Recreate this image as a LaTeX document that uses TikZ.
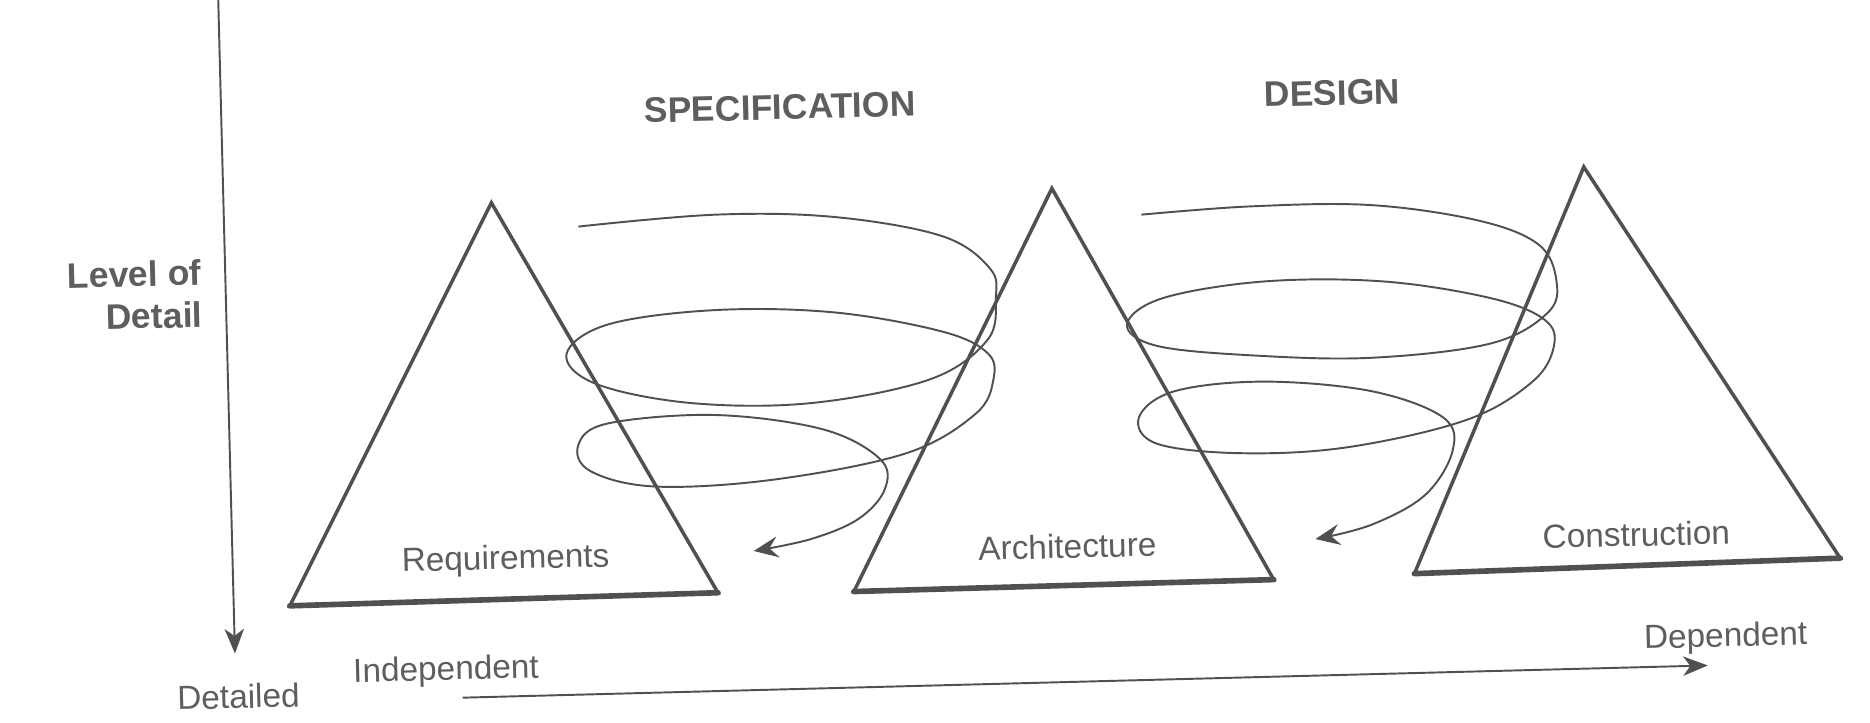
\documentclass[tikz,border=0pt]{standalone}
\usepackage{fontspec}
\setmainfont{Liberation Sans}
\usetikzlibrary{arrows.meta}
\definecolor{ink}{HTML}{505050}
\definecolor{txt}{HTML}{5E5E5E}
\begin{document}
\begin{tikzpicture}[x=0.011926cm,y=-0.011926cm,
  tri/.style={draw=ink,line width=1pt,line join=miter},
  base/.style={draw=ink,line width=1.6pt,line cap=round},
  spiral/.style={draw=ink,line width=0.55pt,-{Stealth[length=7pt,width=6pt,inset=2.5pt]}},
  axis/.style={draw=ink,line width=0.55pt,-{Stealth[length=7pt,width=5.5pt,inset=2pt]}},
  lbl/.style={text=txt,font=\fontsize{9.5}{11}\selectfont,inner sep=0pt,rotate=1.4},
  head/.style={text=txt,font=\fontsize{10.1}{12}\selectfont\bfseries,inner sep=0pt,rotate=1.4}]
\useasboundingbox (0,0) rectangle (1568,606);
% axes
\coordinate (vtop) at (183,0);
\coordinate (vbot) at (197,548);
\coordinate (hl) at (388,585);
\coordinate (hr) at (1432,558);
\draw[axis] (vtop) -- (vbot);
\draw[axis] (hl) -- (hr);
% labels
\node[head,align=right,anchor=east] (lod) at (170,246) {Level of\\Detail};
\node[lbl] (detailed) at (200,584) {Detailed};
\node[lbl] (indep) at (374,563) {Independent};
\node[lbl] (dep) at (1447,535) {Dependent};
\node[head] (spec) at (654,90) {SPECIFICATION};
\node[head] (design) at (1117,78) {DESIGN};
% triangles
\coordinate (t1a) at (412,170); \coordinate (t1l) at (243,508); \coordinate (t1r) at (602,497);
\coordinate (t2a) at (882,158); \coordinate (t2l) at (716,496); \coordinate (t2r) at (1068,486);
\coordinate (t3a) at (1328,140); \coordinate (t3l) at (1186,481); \coordinate (t3r) at (1543,468);
\draw[tri] (t1a) -- (t1l) -- (t1r) -- cycle;
\draw[tri] (t2a) -- (t2l) -- (t2r) -- cycle;
\draw[tri] (t3a) -- (t3l) -- (t3r) -- cycle;
\draw[base] (t1l) -- (t1r);
\draw[base] (t2l) -- (t2r);
\draw[base] (t3l) -- (t3r);
\node[lbl] (req) at (424,470) {Requirements};
\node[lbl] (arch) at (895,458) {Architecture};
\node[lbl] (cons) at (1372,448) {Construction};
% spirals
\draw[spiral] plot[smooth,tension=0.6] coordinates {
 (485,190) (600,180) (700,182) (790,198) (830,225) (835,250) (828,285)
 (780,318) (680,338) (580,338) (500,322) (475,297)
 (510,272) (600,260) (700,262) (790,278) (828,296)
 (833,318) (818,347)
 (760,380) (650,402) (550,408) (495,395) (485,373)
 (510,355) (600,348) (690,360) (738,385)
 (742,410) (720,435) (680,452) (632,462)};
\draw[spiral] plot[smooth,tension=0.6] coordinates {
 (957,180) (1050,173) (1150,172) (1240,185) (1290,205) (1305,235) (1298,262)
 (1250,288) (1150,300) (1050,298) (970,290) (945,272)
 (975,250) (1060,236) (1160,236) (1250,250) (1295,268)
 (1303,290) (1285,320)
 (1230,352) (1130,375) (1040,380) (970,372) (955,350)
 (985,328) (1060,320) (1150,328) (1210,350)
 (1218,378) (1195,415) (1150,440) (1103,452)};
\end{tikzpicture}
\end{document}
